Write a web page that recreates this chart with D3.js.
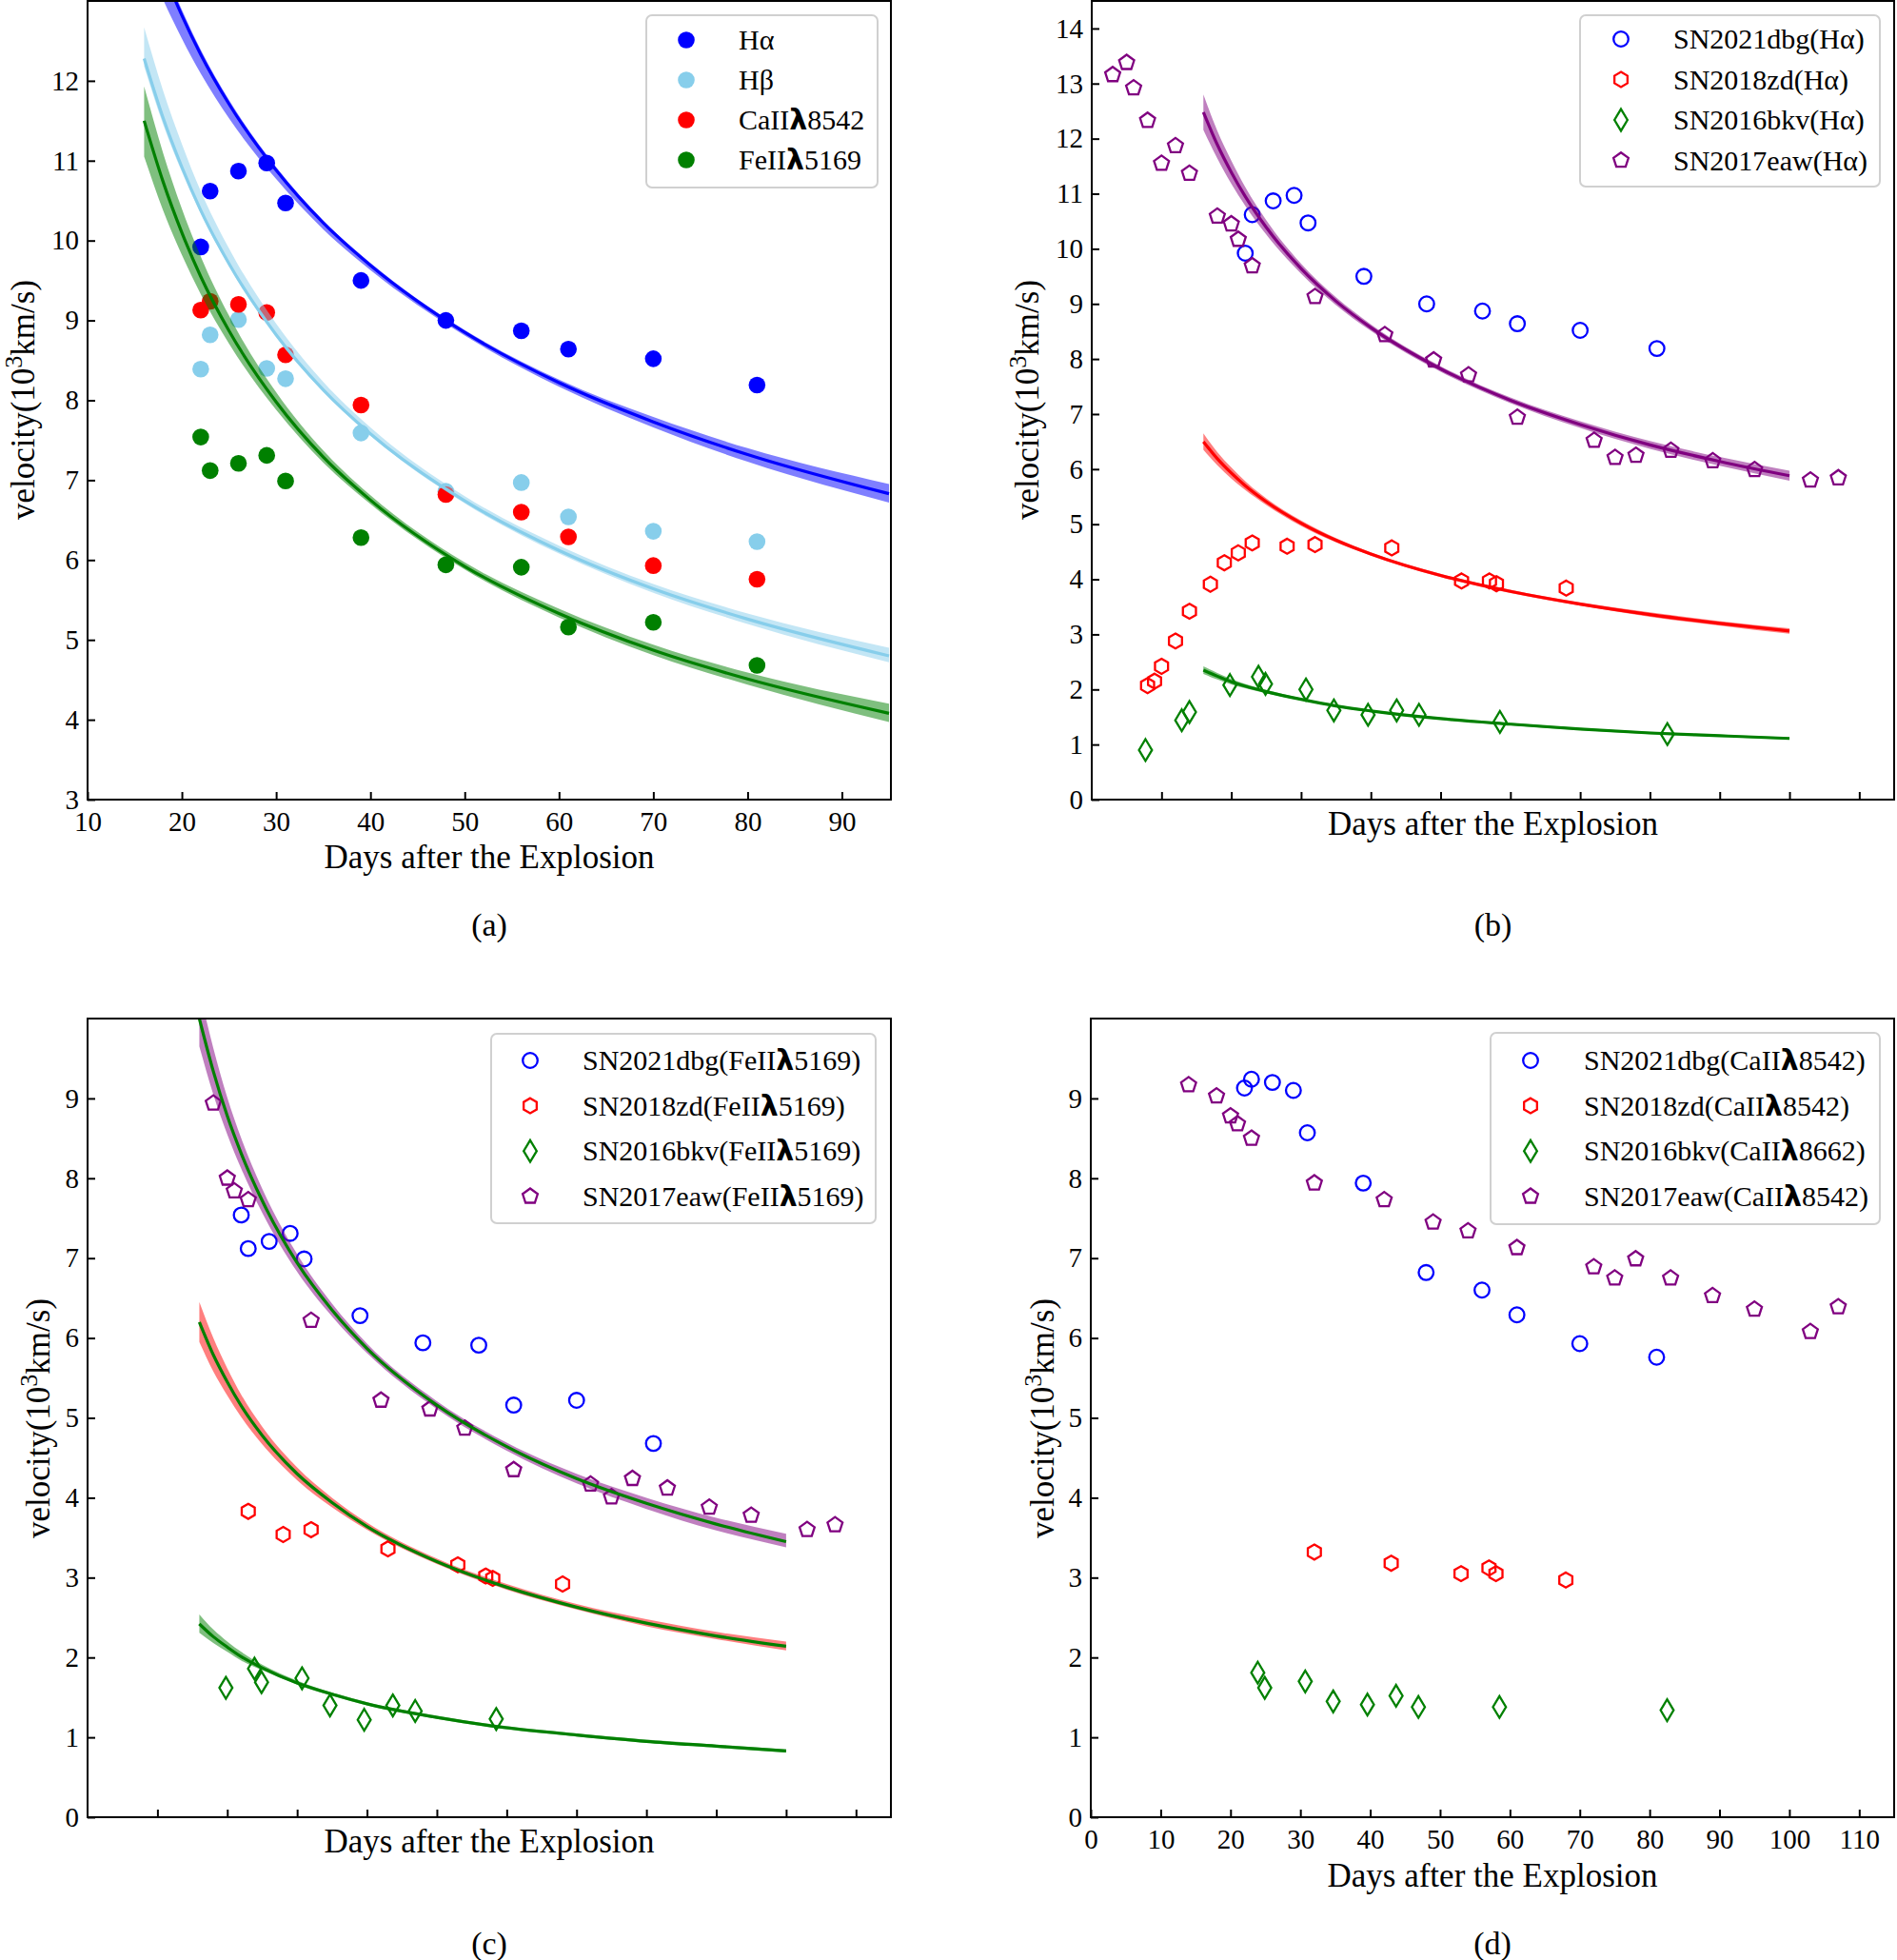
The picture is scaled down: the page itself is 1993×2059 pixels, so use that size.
<!DOCTYPE html>
<html>
<head>
<meta charset="utf-8">
<script src="https://cdn.jsdelivr.net/npm/d3@7"></script>
<style>
body { margin: 0; background: #fff; }
text { font-family: "Liberation Serif", "Times New Roman", serif; fill: #000; }
</style>
</head>
<body>
<script>
// ---- SN2021dbg, days after explosion ----
var dbgDays = [22, 23, 26, 29, 31, 39, 48, 56, 61, 70, 81];
var dbgHa = [9.92, 10.62, 10.87, 10.97, 10.47, 9.50, 9.00, 8.87, 8.64, 8.52, 8.19];
var dbgHb = [8.39, 8.82, 9.01, 8.40, 8.27, 7.59, 6.86, 6.97, 6.54, 6.36, 6.23];
var dbgCa = [9.13, 9.24, 9.20, 9.10, 8.57, 7.94, 6.82, 6.60, 6.29, 5.93, 5.76];
var dbgFe = [7.54, 7.12, 7.21, 7.31, 6.99, 6.28, 5.94, 5.91, 5.16, 5.22, 4.68];

// ---- SN2018zd ----
var zdHaDays = [8, 9, 10, 12, 14, 17, 19, 21, 23, 28, 32, 43, 53, 57, 58, 68];
var zdHa = [2.07, 2.15, 2.42, 2.88, 3.42, 3.91, 4.30, 4.48, 4.66, 4.60, 4.63, 4.57, 3.97, 3.97, 3.92, 3.84];
var zdFeDays = [23, 28, 32, 43, 53, 57, 58, 68];
var zdFe = [3.83, 3.54, 3.60, 3.36, 3.16, 3.02, 2.99, 2.92];
var zdCaDays = [32, 43, 53, 57, 58, 68];
var zdCa = [3.32, 3.18, 3.05, 3.12, 3.05, 2.97];

// ---- SN2016bkv ----
var bkvHaDays = [7.7, 12.9, 14.0, 19.8, 23.9, 24.9, 30.7, 34.7, 39.6, 43.7, 46.9, 58.5, 82.5];
var bkvHa = [0.90, 1.44, 1.59, 2.08, 2.23, 2.10, 2.00, 1.62, 1.54, 1.62, 1.54, 1.41, 1.19];
var bkvFeDays = [19.8, 23.9, 24.9, 30.7, 34.7, 39.6, 43.7, 46.9, 58.5];
var bkvFe = [1.62, 1.86, 1.69, 1.74, 1.40, 1.22, 1.40, 1.33, 1.23];
var bkvCaDays = [23.9, 24.9, 30.7, 34.7, 39.6, 43.7, 46.9, 58.5, 82.5];
var bkvCa = [1.81, 1.62, 1.70, 1.45, 1.41, 1.52, 1.38, 1.38, 1.34];

// ---- SN2017eaw ----
var eawHaDays = [3, 5, 6, 8, 10, 12, 14, 18, 20, 21, 23, 32, 42, 49, 54, 61, 72, 75, 78, 83, 89, 95, 103, 107];
var eawHa = [13.16, 13.38, 12.92, 12.33, 11.55, 11.87, 11.37, 10.59, 10.45, 10.17, 9.69, 9.13, 8.44, 7.98, 7.71, 6.94, 6.52, 6.21, 6.25, 6.34, 6.15, 5.99, 5.80, 5.84];
var eawFeDays = [18, 20, 21, 23, 32, 42, 49, 54, 61, 72, 75, 78, 83, 89, 95, 103, 107];
var eawFe = [8.94, 8.00, 7.84, 7.73, 6.22, 5.22, 5.11, 4.87, 4.35, 4.17, 4.01, 4.24, 4.12, 3.88, 3.78, 3.60, 3.66];
var eawCaDays = [14, 18, 20, 21, 23, 32, 42, 49, 54, 61, 72, 75, 78, 83, 89, 95, 103, 107];
var eawCa = [9.17, 9.03, 8.78, 8.68, 8.50, 7.94, 7.73, 7.45, 7.34, 7.13, 6.89, 6.75, 6.99, 6.75, 6.53, 6.36, 6.08, 6.39];

// ---- fitted curves ----
var fitDaysA = [16, 18, 20, 22, 25, 30, 35, 40, 50, 60, 70, 80, 95];
var haFitMid = [14.03, 13.38, 12.82, 12.33, 11.71, 10.88, 10.22, 9.69, 8.85, 8.22, 7.73, 7.32, 6.83];
var haFitLo  = [13.60, 13.02, 12.53, 12.09, 11.53, 10.77, 10.14, 9.63, 8.81, 8.17, 7.66, 7.23, 6.72];
var haFitHi  = [14.14, 13.46, 12.89, 12.39, 11.76, 10.92, 10.25, 9.72, 8.88, 8.26, 7.79, 7.40, 6.95];
var hbFitMid = [12.28, 11.54, 10.92, 10.38, 9.71, 8.82, 8.13, 7.58, 6.74, 6.12, 5.64, 5.26, 4.80];
var hbFitLo  = [12.18, 11.46, 10.86, 10.34, 9.68, 8.80, 8.11, 7.56, 6.71, 6.08, 5.59, 5.20, 4.72];
var hbFitHi  = [12.67, 11.88, 11.21, 10.62, 9.90, 8.96, 8.23, 7.66, 6.80, 6.18, 5.70, 5.33, 4.90];
var feFitMid = [11.50, 10.74, 10.10, 9.55, 8.87, 7.98, 7.29, 6.75, 5.92, 5.33, 4.87, 4.51, 4.08];
var feFitLo  = [11.05, 10.38, 9.82, 9.33, 8.71, 7.88, 7.22, 6.70, 5.88, 5.28, 4.81, 4.44, 3.97];
var feFitHi  = [11.93, 11.10, 10.40, 9.80, 9.06, 8.10, 7.37, 6.81, 5.97, 5.39, 4.94, 4.59, 4.20];

var fitDaysB = [16, 18, 20, 22, 25, 30, 35, 40, 50, 60, 70, 80, 90, 100];
var eawHaFitMid = [12.48, 11.89, 11.39, 10.95, 10.39, 9.64, 9.05, 8.57, 7.82, 7.25, 6.81, 6.44, 6.14, 5.88];
var eawHaFitLo  = [12.16, 11.64, 11.18, 10.78, 10.26, 9.55, 8.98, 8.51, 7.77, 7.20, 6.75, 6.37, 6.06, 5.79];
var eawHaFitHi  = [12.80, 12.14, 11.60, 11.12, 10.52, 9.73, 9.12, 8.63, 7.87, 7.30, 6.87, 6.51, 6.22, 5.97];
var zdHaFitMid = [6.50, 6.19, 5.93, 5.70, 5.41, 5.02, 4.71, 4.46, 4.07, 3.78, 3.55, 3.36, 3.20, 3.06];
var zdHaFitLo  = [6.35, 6.07, 5.83, 5.62, 5.35, 4.97, 4.67, 4.43, 4.04, 3.75, 3.52, 3.32, 3.16, 3.01];
var zdHaFitHi  = [6.65, 6.31, 6.03, 5.78, 5.47, 5.07, 4.75, 4.49, 4.10, 3.81, 3.58, 3.40, 3.24, 3.11];
var bkvHaFitMid = [2.35, 2.24, 2.14, 2.06, 1.96, 1.82, 1.70, 1.61, 1.47, 1.37, 1.28, 1.21, 1.16, 1.11];
var bkvHaFitLo  = [2.28, 2.18, 2.09, 2.02, 1.93, 1.80, 1.68, 1.59, 1.45, 1.35, 1.26, 1.19, 1.14, 1.09];
var bkvHaFitHi  = [2.42, 2.30, 2.19, 2.10, 1.99, 1.84, 1.72, 1.63, 1.49, 1.39, 1.30, 1.23, 1.18, 1.13];

var eawFeFitMid = [10.00, 9.34, 8.78, 8.31, 7.72, 6.94, 6.35, 5.87, 5.16, 4.64, 4.24, 3.93, 3.67, 3.45];
var eawFeFitLo  = [9.65, 9.05, 8.55, 8.12, 7.57, 6.83, 6.27, 5.81, 5.11, 4.59, 4.18, 3.86, 3.59, 3.38];
var eawFeFitHi  = [10.35, 9.63, 9.01, 8.50, 7.87, 7.05, 6.43, 5.93, 5.21, 4.69, 4.30, 4.00, 3.75, 3.55];
var zdFeFitMid = [6.20, 5.79, 5.45, 5.15, 4.78, 4.30, 3.94, 3.64, 3.20, 2.88, 2.63, 2.43, 2.27, 2.14];
var zdFeFitLo  = [5.95, 5.58, 5.28, 5.01, 4.67, 4.22, 3.88, 3.60, 3.17, 2.85, 2.60, 2.39, 2.23, 2.09];
var zdFeFitHi  = [6.45, 6.00, 5.62, 5.29, 4.89, 4.38, 4.00, 3.69, 3.24, 2.92, 2.67, 2.48, 2.32, 2.20];
var bkvFeFitMid = [2.42, 2.26, 2.13, 2.01, 1.87, 1.68, 1.54, 1.42, 1.25, 1.12, 1.03, 0.95, 0.89, 0.83];
var bkvFeFitLo  = [2.31, 2.18, 2.07, 1.96, 1.84, 1.66, 1.52, 1.40, 1.23, 1.10, 1.01, 0.93, 0.87, 0.81];
var bkvFeFitHi  = [2.54, 2.35, 2.20, 2.07, 1.91, 1.71, 1.56, 1.44, 1.27, 1.14, 1.05, 0.97, 0.91, 0.85];

// ---- ticks ----
var ticksA_x = [10, 20, 30, 40, 50, 60, 70, 80, 90];
var ticksA_y = [3, 4, 5, 6, 7, 8, 9, 10, 11, 12];
var ticksDay = [10, 20, 30, 40, 50, 60, 70, 80, 90, 100, 110];
var ticksDayD = [0, 10, 20, 30, 40, 50, 60, 70, 80, 90, 100, 110];
var ticksB_y = [0, 1, 2, 3, 4, 5, 6, 7, 8, 9, 10, 11, 12, 13, 14];
var ticksCD_y = [0, 1, 2, 3, 4, 5, 6, 7, 8, 9];

var W = 1993, H = 2059;
var tickFont = 29, labelFont = 35, legendFont = 30, capFont = 34;

var svg = d3.select("body").append("svg").attr("width", W).attr("height", H);
svg.append("rect").attr("width", W).attr("height", H).attr("fill", "#fff");

function zip(xs, ys) { return xs.map(function(d, i){ return [d, ys[i]]; }); }

function markerPath(shape, r) {
	var p = d3.path();
	if (shape == "circle") {
		p.arc(0, 0, r, 0, 2 * Math.PI);
	} else if (shape == "thin") {
		p.moveTo(0, -r * 1.5); p.lineTo(r * 0.9, 0); p.lineTo(0, r * 1.5); p.lineTo(-r * 0.9, 0);
	} else {
		var n = shape == "hex" ? 6 : 5;
		for (var i = 0; i < n; i++) {
			var a = -Math.PI / 2 + i * 2 * Math.PI / n;
			if (i == 0) p.moveTo(r * Math.cos(a), r * Math.sin(a));
			else p.lineTo(r * Math.cos(a), r * Math.sin(a));
		}
	}
	p.closePath();
	return p.toString();
}

var markerSize = { circle: 7.8, hex: 7.9, thin: 7.6, pent: 8.3 };

function addText(sel, str) {
	// lambda rendered heavier, like the mathtext glyph
	var parts = str.split("λ");
	sel.append("tspan").text(parts[0]);
	if (parts.length > 1) {
		sel.append("tspan").attr("font-weight", "bold").style("font-family", "DejaVu Sans").text("λ");
		sel.append("tspan").text(parts[1]);
	}
}

function drawPanel(p) {
	var x = d3.scaleLinear().domain(p.xd).range([p.x0, p.x1]);
	var y = d3.scaleLinear().domain(p.yd).range([p.y1, p.y0]);
	var g = svg.append("g");

	svg.append("clipPath").attr("id", "clip" + p.name)
		.append("rect").attr("x", p.x0).attr("y", p.y0).attr("width", p.x1 - p.x0).attr("height", p.y1 - p.y0);

	var xa = d3.axisBottom(x).tickValues(p.xticks).tickSizeInner(-8).tickSizeOuter(0).tickPadding(12);
	if (!p.xlab) xa.tickFormat("");
	var gx = g.append("g").attr("transform", "translate(0," + p.y1 + ")").call(xa);
	var ya = d3.axisLeft(y).tickValues(p.yticks).tickSizeInner(-8).tickSizeOuter(0).tickPadding(9);
	var gy = g.append("g").attr("transform", "translate(" + p.x0 + ",0)").call(ya);
	[gx, gy].forEach(function(a){
		a.attr("font-size", tickFont).attr("font-family", null);
		a.select(".domain").remove();
		a.selectAll(".tick line").attr("stroke", "#000").attr("stroke-width", 2);
	});

	var plot = g.append("g").attr("clip-path", "url(#clip" + p.name + ")");

	g.append("text").attr("x", (p.x0 + p.x1) / 2).attr("y", p.xlabelY).attr("dy", "0.35em")
		.attr("text-anchor", "middle").attr("font-size", labelFont).text("Days after the Explosion");

	var yl = g.append("text").attr("text-anchor", "middle").attr("font-size", labelFont)
		.attr("transform", "translate(" + p.ylabelX + "," + p.ylabelY + ") rotate(-90)").attr("dy", "0.35em");
	yl.append("tspan").text("velocity(10");
	yl.append("tspan").attr("font-size", 26).attr("dy", -13).text("3");
	yl.append("tspan").attr("dy", 13).text("km/s)");

	g.append("text").attr("x", (p.x0 + p.x1) / 2).attr("y", p.capY).attr("dy", "0.35em")
		.attr("text-anchor", "middle").attr("font-size", capFont).text(p.caption);

	return { g: g, plot: plot, x: x, y: y, p: p };
}

function scatter(panel, days, vals, shape, color, filled) {
	panel.plot.append("g").selectAll("path").data(zip(days, vals)).enter().append("path")
		.attr("transform", function(d){ return "translate(" + panel.x(d[0]) + "," + panel.y(d[1]) + ")"; })
		.attr("d", markerPath(shape, filled ? 8.8 : markerSize[shape]))
		.attr("fill", filled ? color : "none")
		.attr("stroke", filled ? "none" : color)
		.attr("stroke-width", 2.3);
}

function fit(panel, days, mid, lo, hi, bandColor, lineColor) {
	var band = d3.area().curve(d3.curveMonotoneX)
		.x(function(d, i){ return panel.x(days[i]); })
		.y0(function(d, i){ return panel.y(lo[i]); })
		.y1(function(d, i){ return panel.y(hi[i]); });
	panel.plot.append("path").datum(days).attr("d", band).attr("fill", bandColor).attr("fill-opacity", 0.5);
	var line = d3.line().curve(d3.curveMonotoneX)
		.x(function(d){ return panel.x(d[0]); })
		.y(function(d){ return panel.y(d[1]); });
	panel.plot.append("path").datum(zip(days, mid)).attr("d", line)
		.attr("fill", "none").attr("stroke", lineColor).attr("stroke-width", 3.2);
}

function frame(panel) {
	var p = panel.p;
	panel.g.append("rect").attr("x", p.x0).attr("y", p.y0).attr("width", p.x1 - p.x0).attr("height", p.y1 - p.y0)
		.attr("fill", "none").attr("stroke", "#000").attr("stroke-width", 2);
}

function legend(panel, box, entries) {
	var lg = panel.g.append("g");
	lg.append("rect").attr("x", box.x).attr("y", box.y).attr("width", box.w).attr("height", box.h)
		.attr("rx", 6).attr("fill", "#fff").attr("fill-opacity", 0.8).attr("stroke", "#d0d0d0").attr("stroke-width", 2);
	entries.forEach(function(e, i){
		var cy = box.row0 + i * box.gap;
		lg.append("path").attr("transform", "translate(" + box.mx + "," + cy + ")")
			.attr("d", markerPath(e.shape, e.filled ? 8.8 : markerSize[e.shape]))
			.attr("fill", e.filled ? e.color : "none").attr("stroke", e.filled ? "none" : e.color).attr("stroke-width", 2.3);
		var t = lg.append("text").attr("x", box.tx).attr("y", cy).attr("dy", "0.34em").attr("font-size", legendFont);
		addText(t, e.label);
	});
}

// ---------- (a) ----------
var A = drawPanel({ name: "a", x0: 92, x1: 936, y0: 1, y1: 840, xd: [10, 95.2], yd: [3, 13],
	xticks: ticksA_x, xlab: true, yticks: ticksA_y, xlabelY: 900, ylabelX: 24, ylabelY: 420, caption: "(a)", capY: 971 });
scatter(A, dbgDays, dbgHa, "circle", "#0000ff", true);
scatter(A, dbgDays, dbgHb, "circle", "#87ceeb", true);
scatter(A, dbgDays, dbgCa, "circle", "#ff0000", true);
scatter(A, dbgDays, dbgFe, "circle", "#008000", true);
fit(A, fitDaysA, haFitMid, haFitLo, haFitHi, "#0000ff", "#0000ff");
fit(A, fitDaysA, hbFitMid, hbFitLo, hbFitHi, "#87ceeb", "#87ceeb");
fit(A, fitDaysA, feFitMid, feFitLo, feFitHi, "#008000", "#008000");
frame(A);
legend(A, { x: 679, y: 16, w: 243, h: 181, mx: 721, tx: 776, row0: 42, gap: 42 }, [
	{ shape: "circle", filled: true, color: "#0000ff", label: "Hα" },
	{ shape: "circle", filled: true, color: "#87ceeb", label: "Hβ" },
	{ shape: "circle", filled: true, color: "#ff0000", label: "CaIIλ8542" },
	{ shape: "circle", filled: true, color: "#008000", label: "FeIIλ5169" }
]);

// ---------- (b) ----------
var B = drawPanel({ name: "b", x0: 1147, x1: 1990, y0: 1, y1: 840, xd: [0, 115], yd: [0, 14.5],
	xticks: ticksDay, xlab: false, yticks: ticksB_y, xlabelY: 865, ylabelX: 1079, ylabelY: 420, caption: "(b)", capY: 971 });
scatter(B, dbgDays, dbgHa, "circle", "#0000ff", false);
scatter(B, zdHaDays, zdHa, "hex", "#ff0000", false);
scatter(B, bkvHaDays, bkvHa, "thin", "#008000", false);
scatter(B, eawHaDays, eawHa, "pent", "#800080", false);
fit(B, fitDaysB, eawHaFitMid, eawHaFitLo, eawHaFitHi, "#800080", "#800080");
fit(B, fitDaysB, zdHaFitMid, zdHaFitLo, zdHaFitHi, "#ff0000", "#ff0000");
fit(B, fitDaysB, bkvHaFitMid, bkvHaFitLo, bkvHaFitHi, "#008000", "#008000");
frame(B);
legend(B, { x: 1660, y: 16, w: 315, h: 180, mx: 1703, tx: 1758, row0: 41, gap: 42.5 }, [
	{ shape: "circle", color: "#0000ff", label: "SN2021dbg(Hα)" },
	{ shape: "hex", color: "#ff0000", label: "SN2018zd(Hα)" },
	{ shape: "thin", color: "#008000", label: "SN2016bkv(Hα)" },
	{ shape: "pent", color: "#800080", label: "SN2017eaw(Hα)" }
]);

// ---------- (c) ----------
var C = drawPanel({ name: "c", x0: 92, x1: 936, y0: 1070, y1: 1909, xd: [0, 115], yd: [0, 10],
	xticks: ticksDay, xlab: false, yticks: ticksCD_y, xlabelY: 1934, ylabelX: 40, ylabelY: 1490, caption: "(c)", capY: 2041 });
scatter(C, dbgDays, dbgFe, "circle", "#0000ff", false);
scatter(C, zdFeDays, zdFe, "hex", "#ff0000", false);
scatter(C, bkvFeDays, bkvFe, "thin", "#008000", false);
scatter(C, eawFeDays, eawFe, "pent", "#800080", false);
fit(C, fitDaysB, eawFeFitMid, eawFeFitLo, eawFeFitHi, "#800080", "#008000");
fit(C, fitDaysB, zdFeFitMid, zdFeFitLo, zdFeFitHi, "#ff0000", "#008000");
fit(C, fitDaysB, bkvFeFitMid, bkvFeFitLo, bkvFeFitHi, "#008000", "#008000");
frame(C);
legend(C, { x: 516, y: 1086, w: 404, h: 199, mx: 557, tx: 612, row0: 1114, gap: 47.6 }, [
	{ shape: "circle", color: "#0000ff", label: "SN2021dbg(FeIIλ5169)" },
	{ shape: "hex", color: "#ff0000", label: "SN2018zd(FeIIλ5169)" },
	{ shape: "thin", color: "#008000", label: "SN2016bkv(FeIIλ5169)" },
	{ shape: "pent", color: "#800080", label: "SN2017eaw(FeIIλ5169)" }
]);

// ---------- (d) ----------
var D = drawPanel({ name: "d", x0: 1146, x1: 1990, y0: 1070, y1: 1909, xd: [0, 115], yd: [0, 10],
	xticks: ticksDayD, xlab: true, yticks: ticksCD_y, xlabelY: 1970, ylabelX: 1095, ylabelY: 1490, caption: "(d)", capY: 2041 });
scatter(D, dbgDays, dbgCa, "circle", "#0000ff", false);
scatter(D, zdCaDays, zdCa, "hex", "#ff0000", false);
scatter(D, bkvCaDays, bkvCa, "thin", "#008000", false);
scatter(D, eawCaDays, eawCa, "pent", "#800080", false);
frame(D);
legend(D, { x: 1566, y: 1085, w: 409, h: 201, mx: 1608, tx: 1664, row0: 1114, gap: 47.6 }, [
	{ shape: "circle", color: "#0000ff", label: "SN2021dbg(CaIIλ8542)" },
	{ shape: "hex", color: "#ff0000", label: "SN2018zd(CaIIλ8542)" },
	{ shape: "thin", color: "#008000", label: "SN2016bkv(CaIIλ8662)" },
	{ shape: "pent", color: "#800080", label: "SN2017eaw(CaIIλ8542)" }
]);
</script>
</body>
</html>
